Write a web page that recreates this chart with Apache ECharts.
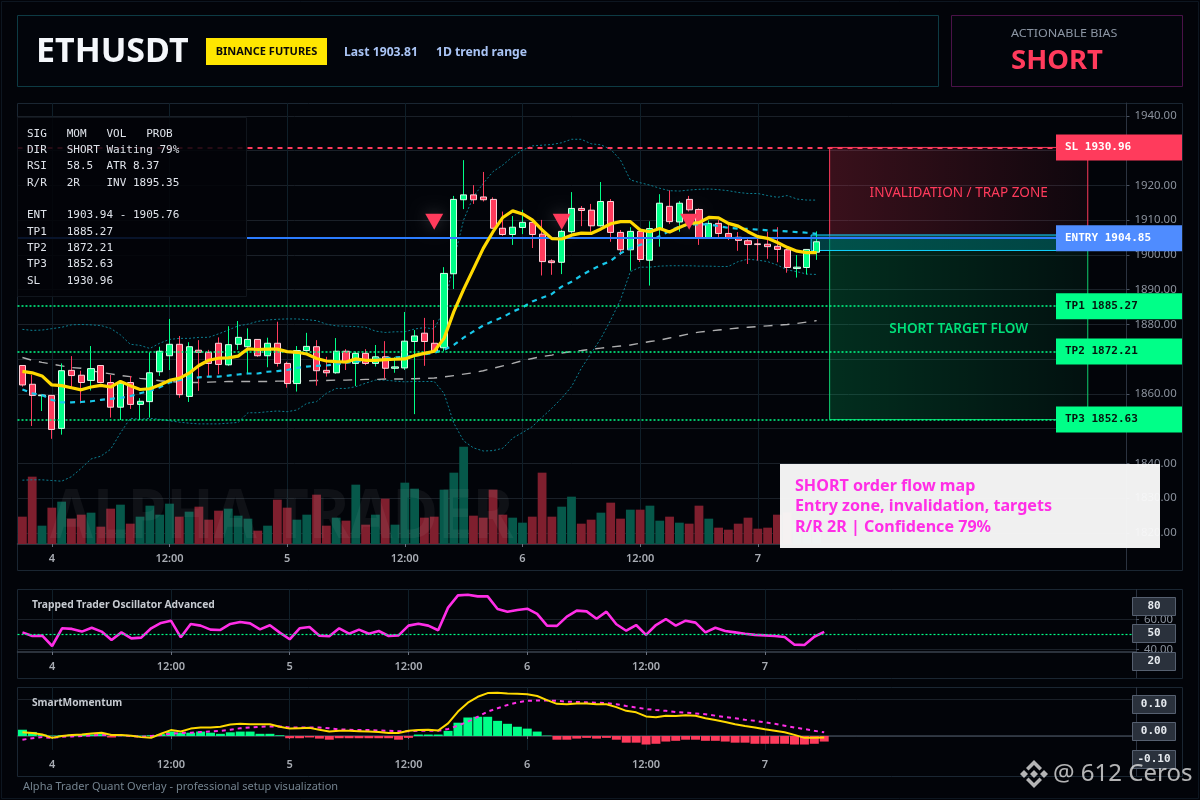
<!DOCTYPE html>
<html><head><meta charset="utf-8">
<style>html,body{margin:0;padding:0;background:#020409}#c{width:1200px;height:800px}</style>
<script src="https://cdn.jsdelivr.net/npm/echarts@6/dist/echarts.min.js"></script>
</head><body><div id="c"></div>
<script>
const UI = '"Noto Sans", sans-serif';
const MONO = '"DejaVu Sans Mono", monospace';
const RED = '#ff3b5c', GREEN = '#00ff88';

const tickIndex = [3, 15, 27, 39, 51, 63, 75];
const tickLabels = ['4', '12:00', '5', '12:00', '6', '12:00', '7'];
const slotCount = 113;

const opens = [1868.2,1862.8,1859.5,1859.6,1850.1,1866.8,1865.4,1863.9,1868.2,1863.3,1856.2,1863.3,1857.0,1857.8,1866.4,1871.0,1874.3,1859.3,1872.6,1872.0,1874.6,1868.4,1874.3,1873.6,1875.7,1871.0,1874.6,1868.8,1863.0,1872.5,1873.6,1866.8,1866.1,1872.3,1868.8,1871.7,1868.8,1870.7,1867.4,1867.5,1875.1,1877.5,1874.6,1873.3,1894.6,1915.9,1917.3,1916.7,1916.0,1907.7,1905.9,1907.9,1909.4,1906.0,1898.3,1897.9,1906.7,1913.4,1912.9,1908.4,1915.4,1906.5,1901.5,1906.8,1898.5,1907.6,1914.0,1909.5,1916.0,1913.1,1905.0,1909.1,1906.2,1905.1,1904.1,1903.2,1903.1,1902.5,1901.5,1896.1,1896.4,1900.8];
const closes = [1862.6,1859.6,1859.7,1849.8,1866.7,1865.3,1863.3,1867.3,1863.3,1856.2,1863.1,1857.0,1857.9,1866.1,1872.3,1874.3,1859.8,1873.6,1872.0,1868.8,1868.5,1874.2,1876.3,1875.7,1871.0,1874.6,1868.8,1863.0,1872.5,1873.7,1866.7,1866.1,1872.3,1869.0,1871.7,1868.8,1870.7,1867.4,1867.8,1875.2,1876.7,1875.1,1872.3,1894.7,1916.0,1917.3,1915.9,1915.9,1907.7,1905.9,1908.0,1909.4,1905.9,1898.1,1897.8,1906.8,1913.4,1912.8,1908.4,1915.4,1906.5,1901.5,1906.8,1898.7,1907.6,1914.9,1909.6,1914.9,1913.0,1905.0,1909.1,1906.2,1905.0,1904.2,1903.0,1903.0,1902.4,1901.6,1896.4,1896.5,1901.6,1903.8];
const lows = [1862.1,1850.8,1855.1,1847.1,1848.3,1861.9,1857.3,1861.0,1863.1,1853.2,1852.5,1855.7,1852.5,1853.2,1865.2,1866.9,1858.9,1857.7,1860.9,1865.0,1865.7,1868.1,1872.7,1865.8,1870.7,1867.7,1867.9,1861.8,1860.7,1872.5,1862.4,1865.0,1865.8,1866.9,1862.3,1868.3,1867.9,1864.5,1866.1,1866.9,1854.2,1868.1,1872.3,1872.3,1890.2,1913.2,1914.7,1915.4,1907.7,1905.5,1902.9,1906.0,1902.0,1894.1,1894.3,1894.5,1906.2,1908.3,1906.7,1908.2,1903.8,1900.0,1895.5,1898.0,1891.2,1902.4,1908.9,1906.7,1912.5,1902.9,1904.8,1904.7,1904.3,1901.2,1897.4,1898.4,1898.9,1897.9,1894.9,1893.5,1894.4,1898.6];
const highs = [1868.2,1865.5,1859.7,1859.6,1868.8,1870.9,1866.7,1873.8,1868.2,1865.5,1864.0,1865.2,1858.8,1872.0,1873.6,1881.6,1876.7,1874.9,1875.5,1872.7,1876.3,1879.5,1881.0,1878.9,1875.7,1876.2,1880.8,1869.3,1873.8,1877.6,1875.5,1870.7,1876.1,1872.9,1872.2,1872.9,1874.1,1875.2,1870.6,1883.6,1878.4,1881.9,1881.3,1896.5,1917.0,1927.3,1920.1,1923.9,1916.6,1912.5,1911.2,1913.0,1910.1,1910.1,1898.8,1907.2,1918.1,1914.1,1914.7,1921.0,1916.1,1907.2,1908.0,1906.8,1909.7,1917.5,1918.6,1915.5,1917.0,1913.4,1909.9,1910.1,1908.6,1906.6,1905.1,1905.1,1906.7,1908.0,1901.9,1900.0,1901.6,1906.8];
const volumes = [82,202,55,109,127,76,88,94,52,106,118,61,82,115,88,121,82,97,112,73,100,106,85,76,40,55,133,109,73,88,148,55,79,70,178,58,88,136,58,184,166,79,82,163,214,292,85,79,163,88,79,64,82,214,82,112,142,61,73,94,124,76,103,103,115,70,82,64,61,115,76,49,43,61,79,46,49,88,95,60,70,55];
const emaFast = [1866.5,1866.1,1865.2,1862.6,1862.4,1861.8,1861.2,1862.0,1862.5,1862.0,1863.6,1862.4,1861.3,1861.5,1862.6,1863.9,1864.5,1866.0,1868.2,1869.7,1870.3,1870.4,1870.9,1873.0,1872.8,1872.9,1872.9,1872.2,1872.0,1871.5,1870.2,1869.5,1869.3,1869.2,1870.1,1869.7,1869.7,1869.9,1870.0,1870.1,1871.1,1871.7,1872.3,1876.0,1883.7,1890.1,1896.0,1901.9,1906.7,1910.8,1912.7,1911.8,1910.1,1907.2,1904.7,1904.6,1905.7,1906.3,1906.2,1907.5,1909.0,1909.6,1909.6,1907.2,1906.7,1907.6,1906.6,1907.9,1909.1,1909.3,1910.8,1910.7,1909.1,1908.3,1906.7,1905.3,1904.8,1903.6,1902.2,1901.1,1900.7,1900.7];
const emaMid = [1861.3,1860.2,1859.7,1858.3,1857.6,1857.6,1857.7,1857.9,1858.3,1858.6,1858.9,1859.4,1860.2,1860.9,1861.9,1863.3,1864.0,1864.5,1864.8,1865.0,1865.0,1865.3,1865.6,1865.9,1865.9,1866.4,1866.6,1866.9,1867.5,1867.9,1868.1,1868.2,1868.6,1869.0,1869.3,1869.6,1870.0,1870.3,1870.5,1870.7,1871.0,1871.4,1871.9,1872.7,1874.1,1876.2,1878.0,1879.7,1881.0,1882.1,1883.7,1884.9,1886.6,1887.7,1888.8,1890.9,1892.3,1894.1,1895.7,1897.1,1898.3,1900.5,1901.9,1902.9,1903.8,1905.5,1906.9,1908.2,1908.8,1908.8,1908.8,1908.3,1907.8,1907.6,1907.5,1907.3,1907.1,1907.0,1906.8,1906.6,1906.4,1906.1];
const emaSlow = [1870.5,1869.7,1869.1,1868.6,1868.1,1867.6,1867.4,1866.7,1866.2,1865.8,1865.3,1865.0,1864.5,1864.2,1863.8,1863.6,1863.4,1863.3,1863.3,1863.4,1863.5,1863.6,1863.6,1863.6,1863.6,1863.6,1863.7,1863.7,1863.7,1863.8,1863.9,1863.9,1864.0,1864.0,1864.1,1864.2,1864.2,1864.3,1864.3,1864.3,1864.4,1864.5,1864.6,1864.9,1865.3,1865.7,1866.1,1866.7,1867.4,1868.1,1868.8,1869.6,1870.2,1870.8,1871.2,1871.8,1872.2,1872.5,1872.9,1873.2,1873.5,1873.8,1874.1,1874.6,1875.1,1875.5,1876.1,1876.7,1877.3,1877.8,1878.1,1878.4,1878.7,1879.0,1879.2,1879.4,1879.6,1879.8,1880.0,1880.3,1880.7,1881.1];
const bandUpper = [1878.6,1878.3,1878.4,1878.8,1879.2,1879.9,1880.0,1879.9,1879.7,1878.9,1877.0,1874.3,1874.0,1873.1,1874.6,1875.7,1876.0,1876.0,1876.3,1876.3,1877.3,1878.4,1879.6,1880.1,1880.9,1881.3,1881.5,1881.6,1881.6,1881.4,1881.1,1880.1,1879.6,1879.5,1879.4,1879.2,1878.1,1877.7,1877.9,1877.9,1878.7,1879.1,1878.7,1884.2,1898.6,1910.1,1916.8,1920.6,1924.0,1925.9,1928.3,1930.2,1931.4,1931.6,1931.8,1932.3,1933.3,1933.3,1932.0,1931.7,1930.4,1927.3,1921.6,1920.8,1920.1,1919.2,1918.5,1918.4,1918.7,1918.9,1919.0,1918.8,1918.5,1918.0,1917.7,1917.7,1917.1,1916.6,1917.1,1916.1,1915.8,1915.8];
const bandLower = [1835.2,1835.3,1835.3,1835.1,1834.9,1836.2,1838.6,1841.3,1842.1,1844.1,1848.8,1853.0,1852.7,1853.0,1852.7,1852.3,1851.9,1851.6,1851.4,1851.4,1851.4,1851.6,1851.8,1854.6,1854.6,1854.9,1855.1,1854.9,1855.4,1857.3,1857.8,1860.2,1861.6,1861.6,1862.1,1863.1,1864.0,1864.0,1863.7,1863.5,1863.6,1863.6,1863.6,1860.2,1851.6,1846.5,1844.5,1843.6,1843.7,1844.4,1847.3,1848.9,1850.6,1853.3,1855.9,1858.8,1862.1,1867.4,1871.7,1876.0,1881.3,1887.1,1895.2,1896.5,1896.5,1896.8,1896.9,1896.9,1896.9,1896.8,1896.8,1896.7,1896.7,1898.1,1898.8,1898.5,1898.1,1897.1,1895.7,1895.2,1894.5,1894.4];
const oscillator = [51.3,48.9,49.1,42.2,54.0,53.6,51.8,54.4,51.8,46.2,51.3,47.3,47.8,54.0,57.6,59.1,48.0,56.9,55.8,53.1,52.9,56.9,58.2,57.3,53.3,56.0,51.1,46.7,54.0,54.9,49.1,48.7,54.0,50.4,53.1,50.4,52.2,48.9,49.3,55.8,57.1,55.8,52.7,67.8,76.0,76.4,75.3,75.3,66.9,65.1,66.2,67.1,63.6,55.8,55.6,61.8,65.8,65.3,60.4,65.1,56.7,52.4,56.2,49.6,56.2,60.2,55.8,59.1,57.8,51.3,54.4,52.2,51.3,50.4,49.6,49.3,48.9,48.2,43.1,42.9,48.4,51.6];
const momHist = [.017,.011,.004,.001,.002,.004,.003,.004,.005,-.004,.002,.002,.001,.002,.005,.012,.009,.009,.012,.009,.006,.010,.012,.012,.006,.006,.002,-.006,-.006,-.004,-.007,-.010,-.006,-.006,-.006,-.006,-.006,-.006,-.010,-.005,.004,.004,.004,.014,.036,.050,.052,.052,.041,.033,.025,.020,.012,.001,-.010,-.010,-.007,-.005,-.007,-.005,-.010,-.018,-.018,-.023,-.021,-.015,-.013,-.010,-.010,-.013,-.013,-.015,-.018,-.018,-.021,-.021,-.021,-.021,-.023,-.023,-.021,-.015];
const momFast = [.010,.008,.004,-.005,0,.003,.004,.007,.009,.003,.003,.001,-.003,-.005,.006,.016,.012,.020,.023,.023,.025,.031,.033,.032,.032,.032,.025,.020,.021,.022,.017,.012,.014,.014,.013,.012,.011,.008,.008,.014,.016,.017,.015,.034,.066,.090,.106,.116,.117,.115,.114,.113,.108,.097,.087,.086,.088,.088,.086,.086,.078,.068,.064,.053,.051,.055,.054,.056,.055,.048,.043,.038,.032,.027,.023,.018,.014,.010,.003,-.005,-.005,-.004];
const momSlow = [-.010,-.006,-.003,-.005,-.002,-.001,0,.002,.003,.003,.002,0,-.002,0,.003,.006,.008,.009,.011,.012,.014,.017,.021,.023,.025,.026,.026,.023,.023,.023,.023,.021,.018,.017,.016,.016,.015,.014,.013,.013,.014,.014,.014,.019,.028,.039,.052,.066,.075,.084,.091,.095,.096,.096,.095,.093,.092,.091,.090,.089,.086,.081,.077,.073,.070,.068,.065,.063,.061,.059,.055,.051,.048,.044,.041,.037,.033,.028,.023,.019,.014,.010];

const slPrice = 1930.96, entryPrice = 1904.85, tp1 = 1885.27, tp2 = 1872.21, tp3 = 1852.63;
const entryTop = 1905.76, entryBottom = 1901.3;
const signalX = [42, 55, 68];
const signalY = [1909.6, 1909.6, 1909.6];
const priceTicks = [1820,1830,1840,1850,1860,1870,1880,1890,1900,1910,1920,1930,1940];
const levelPrices = [slPrice, entryPrice, tp1, tp2, tp3];
const levelNames = ['SL 1930.96', 'ENTRY 1904.85', 'TP1 1885.27', 'TP2 1872.21', 'TP3 1852.63'];
const tableLines = ['SIG   MOM   VOL   PROB','DIR   SHORT Waiting 79%','RSI   58.5  ATR 8.37','R/R   2R    INV 1895.35',' ','ENT   1903.94 - 1905.76','TP1   1885.27','TP2   1872.21','TP3   1852.63','SL    1930.96'];
const noteLines = ['SHORT order flow map','Entry zone, invalidation, targets','R/R 2R | Confidence 79%'];
const paneBoxes1 = ['80', '50', '20'];
const paneBoxes2 = ['0.10', '0.00', '-0.10'];

const categories = Array.from({length: slotCount}, (_, i) => {
  const k = tickIndex.indexOf(i);
  return k >= 0 ? tickLabels[k] : 'h' + i;
});
const isTick = i => tickIndex.indexOf(i) >= 0;

function xAxis(gridIndex) {
  return {
    type: 'category', gridIndex, data: categories, boundaryGap: true,
    axisLine: {show: true, lineStyle: {color: '#3a424e', width: 1.5}},
    axisTick: {show: true, alignWithLabel: true, interval: isTick, length: 3, lineStyle: {color: '#6b7280'}},
    axisLabel: {interval: isTick, color: '#a9adb4', margin: 9, fontFamily: UI, fontSize: 11, fontWeight: 600},
    splitLine: {show: true, alignWithLabel: true, interval: isTick, lineStyle: {color: '#0f1f29', width: 1}}
  };
}
function yAxis(gridIndex, min, max, ticks, fixed, offset, hideLabels) {
  return {
    type: 'value', gridIndex, position: 'right', min, max, offset: offset || 0, scale: true,
    axisLine: {show: true, lineStyle: {color: '#2b3340'}},
    axisTick: {show: true, length: 3, customValues: ticks, lineStyle: {color: '#4a5361'}},
    axisLabel: {show: !hideLabels, customValues: ticks, color: '#8b929d', fontFamily: UI, fontSize: 11.4, margin: 8, padding: [3, 0, 0, 0], formatter: v => v.toFixed(fixed), showMinLabel: true, showMaxLabel: true},
    splitLine: {show: true, lineStyle: {color: '#1a2028', width: 1}}
  };
}
const candleData = opens.map((o, i) => [o, closes[i], lows[i], highs[i]]);
const bodyData = opens.map((o, i) => [o, closes[i], Math.min(o, closes[i]), Math.max(o, closes[i])]);
const up = i => closes[i] >= opens[i];

function overlayLine(name, data, color, width, type, z, opacity) {
  return {name, type: 'line', xAxisIndex: 0, yAxisIndex: 0, data, showSymbol: false, symbol: 'none', smooth: false, z,
    lineStyle: {color, width, type, opacity: opacity == null ? 1 : opacity}, silent: true};
}
const zoneData = [[82, slPrice, 108, entryPrice], [82, entryPrice, 108, tp3], [81, entryTop, 108, entryBottom]];
const zoneLook = [
  {stroke: RED, c0: 'rgba(255,59,92,0.22)', c1: 'rgba(255,59,92,0.05)', title: 'INVALIDATION / TRAP ZONE', titleColor: RED, font: '13.6px '},
  {stroke: '#10d070', c0: 'rgba(0,255,136,0.17)', c1: 'rgba(0,255,136,0.05)', title: 'SHORT TARGET FLOW', titleColor: '#00e07a', font: '600 13.5px '},
  {stroke: '#12d2ff', c0: 'rgba(0,110,110,0.55)', c1: 'rgba(0,110,110,0.55)'}
];
function box(t, y) {
  return [
    {type: 'rect', z: 30, silent: true, shape: {x: 1132.5, y, width: 43, height: 18}, style: {fill: '#2a313c', stroke: '#566070', lineWidth: 1}},
    {type: 'text', z: 31, silent: true, style: {text: t, x: 1154, y: y + 9, fill: '#e6eaef', font: 'bold 11px ' + MONO, textAlign: 'center', textVerticalAlign: 'middle'}}
  ];
}
function logo(cx, cy) {
  const c = 'rgba(225,225,225,0.8)';
  const poly = pts => ({type: 'polygon', z: 40, silent: true, shape: {points: pts.map(p => [cx + p[0], cy + p[1]])}, style: {fill: c}});
  return [
    poly([[0,-4],[4,0],[0,4],[-4,0]]),
    poly([[-14,0],[-10,-4],[-6,0],[-10,4]]),
    poly([[14,0],[10,-4],[6,0],[10,4]]),
    poly([[0,-14],[8,-6],[5.5,-3.5],[0,-9],[-5.5,-3.5],[-8,-6]]),
    poly([[0,14],[8,6],[5.5,3.5],[0,9],[-5.5,3.5],[-8,6]])
  ];
}
const option = {
  animation: false,
  backgroundColor: '#020409',
  grid: [
    {left: 17.5, top: 103, width: 1108, height: 441, show: false},
    {left: 17.5, top: 589.5, width: 1118.5, height: 62.5, show: false},
    {left: 17.5, top: 687.5, width: 1118.5, height: 62.5, show: false}
  ],
  xAxis: [xAxis(0), xAxis(1), xAxis(2)],
  yAxis: [
    yAxis(0, 1816.83, 1943.74, priceTicks, 2, 1),
    {type: 'value', gridIndex: 0, min: 0, max: 1323, show: false, splitLine: {show: false}},
    yAxis(1, 38.2, 79.9, [40, 60], 2),
    yAxis(2, -0.0378, 0.1311, [0, 0.1], 2, 0, true)
  ],
  series: [
    {name: 'Volume', type: 'bar', xAxisIndex: 0, yAxisIndex: 1, z: 1, barWidth: 8.8, silent: true,
      data: volumes.map((v, i) => ({value: v, itemStyle: {color: up(i) ? '#06584a' : '#7f1f2e'}}))},
    {name: 'Zones', type: 'custom', xAxisIndex: 0, yAxisIndex: 0, z: 1, silent: true, encode: {x: 0, y: 1},
      data: zoneData,
      renderItem(p, api) {
        const look = zoneLook[p.dataIndex];
        const a = api.coord([api.value(0), api.value(1)]);
        const b = api.coord([api.value(2), api.value(3)]);
        const x = a[0] + (p.dataIndex === 2 ? -5.5 : 3.2), w = b[0] + 6.4 - x;
        const kids = [{type: 'rect', shape: {x, y: a[1], width: w, height: b[1] - a[1]},
          style: {stroke: look.stroke, lineWidth: 1,
            fill: new echarts.graphic.LinearGradient(0, 0, 1, 0, [{offset: 0, color: look.c0}, {offset: 1, color: look.c1}])}}];
        if (look.title) kids.push({type: 'text', style: {text: look.title, x: x + w / 2, y: (a[1] + b[1]) / 2,
          fill: look.titleColor, font: look.font + UI, textAlign: 'center', textVerticalAlign: 'middle'}});
        return {type: 'group', children: kids};
      }},
    overlayLine('Band upper', bandUpper, '#0c7f92', 1, [2, 2], 2),
    overlayLine('Band lower', bandLower, '#0c7f92', 1, [2, 2], 2),
    overlayLine('EMA slow', emaSlow, '#d8d8d8', 1.4, [9, 8], 2, 0.8),
    {name: 'Candle wick', type: 'candlestick', xAxisIndex: 0, yAxisIndex: 0, z: 3, silent: true, barWidth: 1, data: candleData,
      itemStyle: {color: GREEN, color0: RED, borderColor: GREEN, borderColor0: RED, borderWidth: 1}},
    {name: 'Candle body', type: 'candlestick', xAxisIndex: 0, yAxisIndex: 0, z: 3, silent: true, barWidth: 6.6, data: bodyData,
      itemStyle: {color: GREEN, color0: RED, borderColor: '#d8ffea', borderColor0: '#ffd2da', borderWidth: 1}},
    overlayLine('EMA mid', emaMid, '#18c8ea', 2.2, [5, 5], 4),
    overlayLine('EMA fast', emaFast, '#ffd900', 3.2, 'solid', 5),
    {name: 'Levels', type: 'line', xAxisIndex: 0, yAxisIndex: 0, data: [], z: 4, silent: true,
      markLine: {silent: true, symbol: 'none', animation: false, label: {show: false}, data: [
        {yAxis: slPrice, lineStyle: {color: RED, type: [5, 5], width: 2}},
        {yAxis: entryPrice, lineStyle: {color: '#2b7cff', type: 'solid', width: 2}},
        {yAxis: tp1, lineStyle: {color: GREEN, type: [2, 2], width: 1.5}},
        {yAxis: tp2, lineStyle: {color: GREEN, type: [2, 2], width: 1.5}},
        {yAxis: tp3, lineStyle: {color: GREEN, type: [2, 2], width: 1.5}}
      ]}},
    {name: 'Signals', type: 'scatter', xAxisIndex: 0, yAxisIndex: 0, z: 6, silent: true, symbol: 'triangle', symbolRotate: 180, symbolSize: [18, 16],
      data: signalX.map((x, i) => [x, signalY[i]]),
      itemStyle: {color: RED, opacity: 1, shadowBlur: 16, shadowColor: 'rgba(255,255,255,0.22)'}},
    {name: 'Level tags', type: 'custom', xAxisIndex: 0, yAxisIndex: 0, z: 20, silent: true, encode: {x: 0, y: 1},
      data: levelPrices.map(v => [0, v]),
      renderItem(p, api) {
        const y = api.coord([0, api.value(1)])[1];
        const i = p.dataIndex;
        const fill = i === 0 ? RED : i === 1 ? '#4f8cff' : GREEN;
        const ink = i < 2 ? '#ffffff' : '#06140d';
        return {type: 'group', children: [
          {type: 'rect', shape: {x: 1056, y: y - 13, width: 126, height: 26}, style: {fill}},
          {type: 'text', style: {text: levelNames[i], x: 1065, y, fill: ink, font: 'bold 11px ' + MONO, textVerticalAlign: 'middle'}}
        ]};
      }},
    {name: 'Oscillator', type: 'line', xAxisIndex: 1, yAxisIndex: 2, data: oscillator, showSymbol: false, symbol: 'none', z: 4, silent: true,
      lineStyle: {color: '#ff2ee6', width: 2.6},
      markLine: {silent: true, symbol: 'none', animation: false, label: {show: false}, lineStyle: {color: GREEN, type: [2, 2], width: 1.2}, data: [{yAxis: 50}]}},
    {name: 'Histogram', type: 'bar', xAxisIndex: 2, yAxisIndex: 3, barWidth: 9, z: 2, silent: true,
      data: momHist.map(v => ({value: v, itemStyle: {color: v >= 0 ? '#00ff88' : '#ff3b5c'}}))},
    {name: 'Momentum slow', type: 'line', xAxisIndex: 2, yAxisIndex: 3, data: momSlow, showSymbol: false, symbol: 'none', z: 3, silent: true,
      lineStyle: {color: '#ff2ee6', width: 2, type: [4, 4]}},
    {name: 'Momentum fast', type: 'line', xAxisIndex: 2, yAxisIndex: 3, data: momFast, showSymbol: false, symbol: 'none', z: 4, silent: true,
      lineStyle: {color: '#ffd900', width: 2}}
  ],
  graphic: {elements: [
    {type: 'text', z: 8, silent: true, x: 50, y: 518, scaleX: 0.9, style: {text: 'ALPHA TRADER', x: 0, y: 0, fill: 'rgba(255,255,255,0.055)', font: 'bold 69px ' + UI, textVerticalAlign: 'middle'}},
    {type: 'rect', z: 0, silent: true, shape: {x: 17.5, y: 15.5, width: 921, height: 71}, style: {fill: '#02050b', stroke: '#0d3b44', lineWidth: 1}},
    {type: 'rect', z: 0, silent: true, shape: {x: 951.5, y: 15.5, width: 231, height: 71}, style: {fill: '#02050b', stroke: '#4a1248', lineWidth: 1}},
    {type: 'text', z: 30, silent: true, style: {text: 'ETHUSDT', x: 36, y: 52, fill: '#f4f7fb', font: 'bold 34px ' + UI, textVerticalAlign: 'middle', shadowBlur: 14, shadowColor: 'rgba(80,200,255,0.45)'}},
    {type: 'rect', z: 30, silent: true, shape: {x: 206, y: 38, width: 121, height: 27}, style: {fill: '#ffe600'}},
    {type: 'text', z: 31, silent: true, style: {text: 'BINANCE FUTURES', x: 266.5, y: 51.5, fill: '#0a0a0a', font: 'bold 11px ' + UI, textAlign: 'center', textVerticalAlign: 'middle'}},
    {type: 'text', z: 30, silent: true, style: {text: 'Last 1903.81', x: 344, y: 53, fill: '#a9c4f5', font: 'bold 12.2px ' + UI, textVerticalAlign: 'middle'}},
    {type: 'text', z: 30, silent: true, style: {text: '1D trend range', x: 436, y: 53, fill: '#a9c4f5', font: 'bold 12.2px ' + UI, textVerticalAlign: 'middle'}},
    {type: 'text', z: 30, silent: true, x: 1011, y: 34, scaleX: 1.14, style: {text: 'ACTIONABLE BIAS', x: 0, y: 0, fill: '#8b95a3', font: '11px ' + UI, textVerticalAlign: 'middle'}},
    {type: 'text', z: 30, silent: true, style: {text: 'SHORT', x: 1057, y: 61.5, fill: RED, font: 'bold 27.5px ' + UI, textAlign: 'center', textVerticalAlign: 'middle', shadowBlur: 12, shadowColor: 'rgba(255,59,92,0.55)'}},
    {type: 'rect', z: 0, silent: true, shape: {x: 17.5, y: 103.5, width: 1165, height: 467}, style: {fill: 'transparent', stroke: '#1a2632', lineWidth: 1}},
    {type: 'rect', z: 0, silent: true, shape: {x: 17.5, y: 589.5, width: 1165, height: 89}, style: {fill: 'transparent', stroke: '#1a2632', lineWidth: 1}},
    {type: 'rect', z: 0, silent: true, shape: {x: 17.5, y: 687.5, width: 1165, height: 89}, style: {fill: 'transparent', stroke: '#1a2632', lineWidth: 1}},
    {type: 'line', z: 0, silent: true, shape: {x1: 1126.5, y1: 544, x2: 1126.5, y2: 570}, style: {stroke: '#2b3340'}},
    {type: 'line', z: 0, silent: true, shape: {x1: 1136.5, y1: 652, x2: 1136.5, y2: 678}, style: {stroke: '#2b3340'}},
    {type: 'line', z: 0, silent: true, shape: {x1: 1136.5, y1: 750, x2: 1136.5, y2: 776}, style: {stroke: '#2b3340'}},
    {type: 'rect', z: 0, silent: true, shape: {x: 1.5, y: 1.5, width: 1197, height: 797}, style: {fill: 'transparent', stroke: '#0d1620', lineWidth: 1}},
    {type: 'rect', z: 24, silent: true, shape: {x: 17.5, y: 117.5, width: 229, height: 179}, style: {fill: 'rgba(2,4,8,0.86)', stroke: '#10151c', lineWidth: 1}},
    ...tableLines.map((t, i) => ({type: 'text', z: 25, silent: true, style: {text: t, x: 27, y: 134 + i * 16.3, fill: '#dfe3ea', font: '11px ' + MONO, textVerticalAlign: 'middle'}})),
    {type: 'rect', z: 26, silent: true, shape: {x: 780, y: 464, width: 380, height: 84}, style: {fill: 'rgba(250,250,250,0.96)'}},
    ...noteLines.map((t, i) => ({type: 'text', z: 27, silent: true, style: {text: t, x: 795, y: 486 + i * 20.6, fill: '#ff2ee6', font: 'bold 16.1px ' + UI, textVerticalAlign: 'middle'}})),
    {type: 'text', z: 25, silent: true, style: {text: 'Trapped Trader Oscillator Advanced', x: 32, y: 605.5, fill: '#c6cad0', font: 'bold 10.3px ' + UI, textVerticalAlign: 'middle'}},
    {type: 'text', z: 25, silent: true, style: {text: 'SmartMomentum', x: 32, y: 703.5, fill: '#c6cad0', font: 'bold 10.2px ' + UI, textVerticalAlign: 'middle'}},
    ...paneBoxes1.flatMap((t, i) => box(t, [597.5, 624.5, 652.5][i])),
    ...paneBoxes2.flatMap((t, i) => box(t, [695.5, 722.5, 750.5][i])),
    {type: 'text', z: 25, silent: true, style: {text: 'Alpha Trader Quant Overlay - professional setup visualization', x: 23, y: 787, fill: '#74838f', font: '11px ' + UI, textVerticalAlign: 'middle'}},
    ...logo(1034, 774),
    {type: 'text', z: 40, silent: true, style: {text: '@ 612 Ceros', x: 1053, y: 774, fill: 'rgba(225,225,225,0.8)', font: '24px ' + UI, textVerticalAlign: 'middle'}}
  ]}
};
const chart = echarts.init(document.getElementById('c'), null, {width: 1200, height: 800});
chart.setOption(option);
</script></body></html>
